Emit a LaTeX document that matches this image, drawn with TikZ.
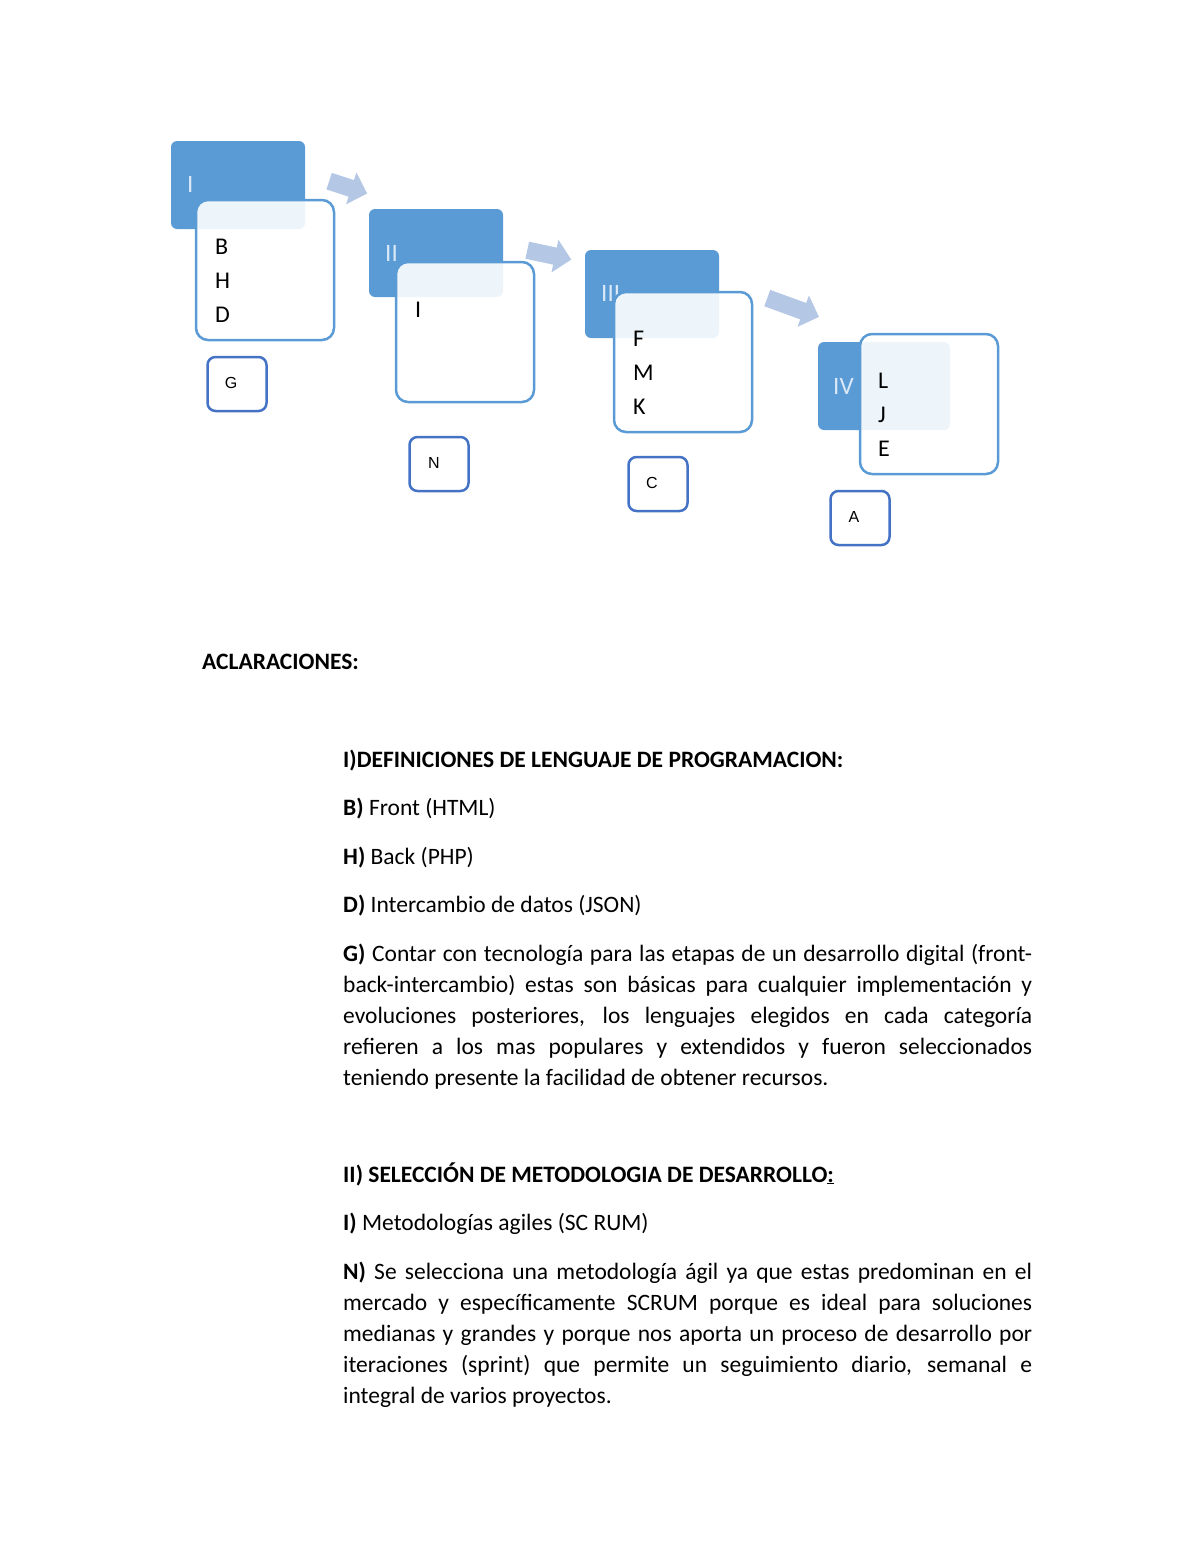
\documentclass[tikz,border=0pt]{standalone}
\usepackage{fontspec}
\setmainfont{Carlito}
\newfontfamily\labelfont{Liberation Sans}
\usetikzlibrary{shapes.arrows}
\definecolor{darkblue}{HTML}{5B9BD5}
\definecolor{edgeblue}{HTML}{5B9BD5}
\definecolor{smallblue}{HTML}{4472C4}
\definecolor{arrowblue}{RGB}{180,200,230}
\definecolor{romancol}{RGB}{218,232,247}
\tikzset{
  darkrect/.style={fill=darkblue, rounded corners=6pt, minimum width=134pt, minimum height=88pt, inner sep=0pt},
  whitebox/.style={draw=edgeblue, line width=2.5pt, fill=white, fill opacity=0.9, rounded corners=12pt, minimum width=138pt, minimum height=140pt, inner sep=0pt},
  smallbox/.style={draw=smallblue, line width=2.5pt, fill=white, rounded corners=8pt, minimum width=59pt, minimum height=54pt, inner sep=0pt},
  smalltext/.style={font=\labelfont\fontsize{16}{18}\selectfont, inner sep=0pt},
  romantext/.style={text=romancol, font=\fontsize{25}{28}\selectfont, anchor=west, inner sep=0pt},
  lettertext/.style={font=\fontsize{24}{28}\selectfont, anchor=west, inner sep=0pt},
  blockarrow/.style={shape=single arrow, fill=arrowblue, draw=none, minimum height=#1, inner xsep=0pt, inner ysep=8.5pt, single arrow head extend=8pt, font=\fontsize{1}{1}\selectfont},
  bodytext/.style={font=\fontsize{23.5}{31}\selectfont, anchor=base west, inner sep=0pt},
}
\newcommand{\jline}[1]{\makebox[689pt][s]{#1}}
\begin{document}
\begin{tikzpicture}[x=1pt,y=-1pt]
\path[use as bounding box] (0,0) rectangle (1200,1553);

% dark rectangles
\node[darkrect] (d1) at (238,185) {};
\node[darkrect] (d2) at (436,253) {};
\node[darkrect] (d3) at (652,294) {};
\node[darkrect, minimum width=132pt] (d4) at (884,386) {};

% roman labels
\node[romantext] (r1) at (187,184) {I};
\node[romantext] (r2) at (385,253) {II};
\node[romantext] (r3) at (601,293) {III};
\node[romantext] (r4) at (833,386) {IV};

% block arrows
\node[blockarrow=40pt, rotate=-18] (a1) at (344,186) {};
\node[blockarrow=45pt, rotate=-12] (a2) at (545,254) {};
\node[blockarrow=55pt, rotate=-20] (a3) at (789,306) {};

% white boxes
\node[whitebox] (w1) at (265,270) {};
\node[whitebox] (w2) at (465,332) {};
\node[whitebox] (w3) at (683,362) {};
\node[whitebox] (w4) at (929,404) {};

% letters in white boxes
\node[lettertext] (tb) at (215,247) {B};
\node[lettertext] (th) at (215,281) {H};
\node[lettertext] (td) at (215,315) {D};
\node[lettertext] (ti) at (415,310) {I};
\node[lettertext] (tf) at (633,339) {F};
\node[lettertext] (tm) at (633,373) {M};
\node[lettertext] (tk) at (633,407) {K};
\node[lettertext] (tl) at (878,381) {L};
\node[lettertext] (tj) at (878,415) {J};
\node[lettertext] (te) at (878,449) {E};

% small boxes
\node[smallbox] (g) at (237,384) {};
\node[smalltext] (gt) at (231,383) {G};
\node[smallbox] (n) at (439,464) {};
\node[smalltext] (nt) at (434,463) {N};
\node[smallbox] (c) at (658,484) {};
\node[smalltext] (ct) at (652,483) {C};
\node[smallbox] (a) at (860,518) {};
\node[smalltext] (at) at (854,517) {A};

% body text
\node[bodytext] (acl) at (202,669) {\textbf{ACLARACIONES:}};
\node[bodytext] (h1) at (343,767) {\textbf{I)DEFINICIONES DE LENGUAJE DE PROGRAMACION:}};
\node[bodytext] (lb) at (343,815) {\textbf{B)} Front (HTML)};
\node[bodytext] (lh) at (343,864) {\textbf{H)} Back (PHP)};
\node[bodytext] (ld) at (343,912) {\textbf{D)} Intercambio de datos (JSON)};
\node[bodytext] (g1) at (343,961) {\jline{\textbf{G)} Contar con tecnología para las etapas de un desarrollo digital (front-}};
\node[bodytext] (g2) at (343,992) {\jline{back-intercambio) estas son básicas para cualquier implementación y}};
\node[bodytext] (g3) at (343,1023) {\jline{evoluciones posteriores, los lenguajes elegidos en cada categoría}};
\node[bodytext] (g4) at (343,1054) {\jline{refieren a los mas populares y extendidos y fueron seleccionados}};
\node[bodytext] (g5) at (343,1085) {teniendo presente la facilidad de obtener recursos.};

\node[bodytext] (h2) at (343,1182) {\textbf{II) SELECCIÓN DE METODOLOGIA DE DESARROLLO\underline{:}}};
\node[bodytext] (li) at (343,1230) {\textbf{I)} Metodologías agiles (SC RUM)};
\node[bodytext] (n1) at (343,1279) {\jline{\textbf{N)} Se selecciona una metodología ágil ya que estas predominan en el}};
\node[bodytext] (n2) at (343,1310) {\jline{mercado y específicamente SCRUM porque es ideal para soluciones}};
\node[bodytext] (n3) at (343,1341) {\jline{medianas y grandes y porque nos aporta un proceso de desarrollo por}};
\node[bodytext] (n4) at (343,1372) {\jline{iteraciones (sprint) que permite un seguimiento diario, semanal e}};
\node[bodytext] (n5) at (343,1403) {integral de varios proyectos.};
\end{tikzpicture}
\end{document}
